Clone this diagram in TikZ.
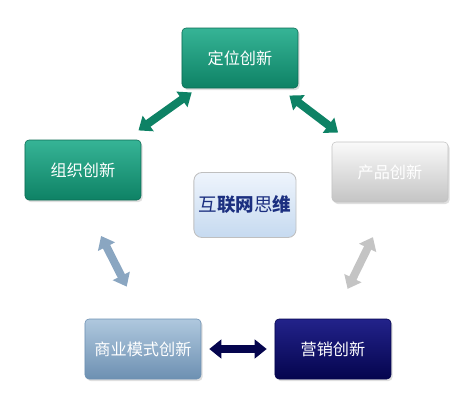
\documentclass[tikz,border=0pt]{standalone}
\usepackage{fontspec}
\usepackage{tikz}
\usetikzlibrary{arrows.meta, shadows}
\newfontfamily\cjk{Noto Sans CJK SC}
\definecolor{TealTop}{HTML}{36B496}
\definecolor{TealBot}{HTML}{0E8265}
\definecolor{TealLine}{HTML}{0B6B53}
\definecolor{SteelTop}{HTML}{AFC8DE}
\definecolor{SteelBot}{HTML}{6D90B2}
\definecolor{NavyTop}{HTML}{22228A}
\definecolor{NavyBot}{HTML}{05054E}
\definecolor{GreyTop}{HTML}{FAFAFA}
\definecolor{GreyBot}{HTML}{C4C4C4}
\definecolor{CoreTop}{HTML}{EEF4FC}
\definecolor{CoreBot}{HTML}{C6DAF0}
\definecolor{CoreText}{HTML}{1B2F80}

\begin{document}
\begin{tikzpicture}[
			box/.style={rectangle, minimum height=1.5cm, minimum width=2.9cm, text centered, rounded corners=0.1cm, font=\cjk\fontsize{11.5}{14}\selectfont, text=white, drop shadow={opacity=0.25, shadow xshift=0.04cm, shadow yshift=-0.05cm}},
			link/.style={line width=0.2cm, {Triangle[width=0.46cm, length=0.3cm]}-{Triangle[width=0.46cm, length=0.3cm]}},
			]
			\useasboundingbox (0,0) rectangle (11.85,-10.3);
			\node (position) [box, top color=TealTop, bottom color=TealBot, draw=TealLine] at (6.0,-1.45) {定位创新};
			\node (organize) [box, top color=TealTop, bottom color=TealBot, draw=TealLine] at (2.075,-4.25) {组织创新};
			\node (product) [box, top color=GreyTop, bottom color=GreyBot, draw=GreyBot] at (9.75,-4.3) {产品创新};
			\node (model) [box, top color=SteelTop, bottom color=SteelBot, draw=SteelBot] at (3.575,-8.725) {商业模式创新};
			\node (market) [box, top color=NavyTop, bottom color=NavyBot, draw=NavyBot] at (8.325,-8.725) {营销创新};
			\node (core) [rectangle, rounded corners=0.2cm, minimum width=2.45cm, minimum height=1.625cm, top color=CoreTop, bottom color=CoreBot, draw=gray!50, line width=0.6pt, text=CoreText, font=\cjk\fontsize{13.2}{16}\selectfont] at (6.125,-5.125) {互\textbf{联网}思\textbf{维}};
			
			\draw[link, TealBot, shorten <=0.18cm, shorten >=0.4cm] (position) -- (organize);
			\draw[link, TealBot, shorten <=0.3cm, shorten >=0.38cm] (position) -- (product);
			\draw[link, SteelBot!80, shorten <=1.0cm, shorten >=0.9cm] (organize.south) -- (model.north); % light blue link
			\draw[link, GreyBot, shorten <=0.97cm, shorten >=0.83cm] (product.south) -- (market.north); % light grey link
			\draw[link, NavyBot, shorten <=0.2cm, shorten >=0.2cm] (model) -- (market);
		\end{tikzpicture}
\end{document}
